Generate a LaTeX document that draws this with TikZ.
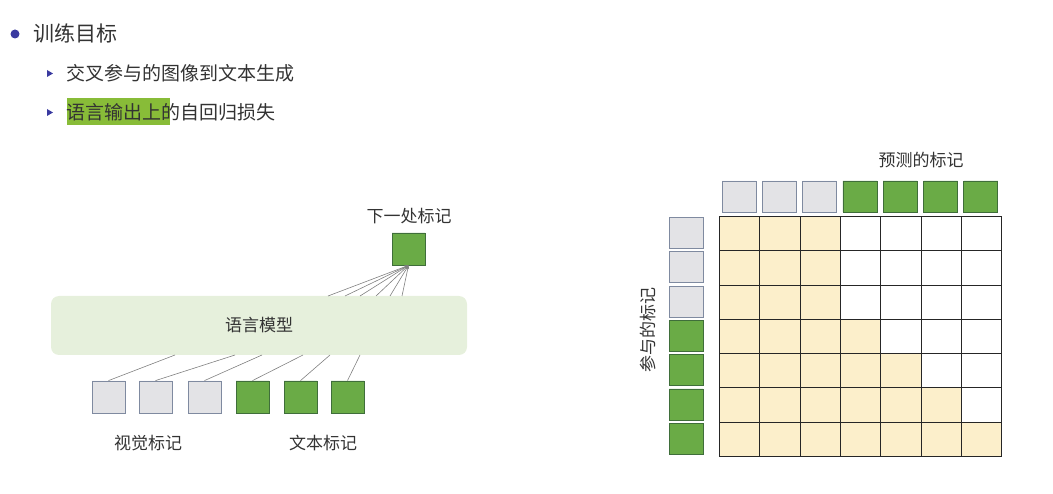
\documentclass[tikz,border=0pt]{standalone}
\usepackage{fontspec}
\setmainfont{Noto Sans CJK SC}
\usetikzlibrary{shapes.misc,arrows.meta}
\definecolor{gfill}{HTML}{E3E3E6}
\definecolor{gdraw}{HTML}{7F8AA0}
\definecolor{tfill}{HTML}{6AAB46}
\definecolor{tdraw}{HTML}{3F6E3A}
\definecolor{yel}{HTML}{FCEFCB}
\definecolor{lmfill}{HTML}{E6F0DC}
\definecolor{bul}{HTML}{3A3AA0}
\definecolor{txt}{HTML}{333333}
\tikzset{
 tok/.style={chamfered rectangle, chamfered rectangle corners={north east,north west}, chamfered rectangle xsep=4pt, chamfered rectangle ysep=4pt, minimum width=#1, inner sep=0pt, line width=0.8pt},
 vis/.style={tok=33pt, minimum height=32pt, fill=gfill, draw=gdraw},
 txk/.style={tok=33pt, minimum height=32pt, fill=tfill, draw=tdraw},
 lbl/.style={font=\fontsize{17}{20}\selectfont, text=txt},
 conn/.style={draw=gray, line width=0.6pt}
}
\begin{document}
\begin{tikzpicture}[x=1pt,y=-1pt]
\useasboundingbox (0,0) rectangle (1053,494);
% bullets
\fill[bul] (15,34) circle (4.5);
\node[anchor=west, font=\fontsize{21}{24}\selectfont, text=txt] (t0) at (30,33) {训练目标};
\fill[bul] (47,70) -- (53,73.5) -- (47,77) -- cycle;
\node[anchor=west, font=\fontsize{19}{22}\selectfont, text=txt] (t1) at (63,73) {交叉参与的图像到文本生成};
\fill[bul] (47,109) -- (53,112.5) -- (47,116) -- cycle;
\fill[tfill!80!yellow] (67,98) rectangle (170,125);
\node[anchor=west, font=\fontsize{19}{22}\selectfont, text=txt] (t2) at (63,112) {语言输出上的自回归损失};
% left diagram
\node[draw=none, fill=lmfill, rounded corners=8pt, minimum width=416pt, minimum height=59pt, inner sep=0pt] (lm) at (259,325.5) {};
\node[lbl] (lmt) at (259,325) {语言模型};
\foreach \i/\x/\s in {1/108.5/vis,2/155.5/vis,3/204.5/vis,4/252.5/txk,5/300.5/txk,6/347.5/txk}{
  \node[\s] (b\i) at (\x,397) {};
}
\foreach \i/\x in {1/175,2/235,3/262,4/303,5/330,6/360}{
  \coordinate (e\i) at (\x,355);
  \draw[conn] (b\i.north) -- (e\i);
}
\node[txk] (nx) at (408.5,249) {};
\foreach \i/\x in {1/328,2/345,3/360,4/376,5/390,6/402}{
  \coordinate (s\i) at (\x,296);
  \draw[conn,-{Stealth[length=4pt]}] (s\i) -- (nx.south);
}
\node[lbl] (nxl) at (409,216) {下一处标记};
\node[lbl] (vl) at (148,443) {视觉标记};
\node[lbl] (tl) at (323,443) {文本标记};
% right matrix
\foreach \r in {0,...,6}{
  \foreach \c in {0,...,6}{
    \pgfmathtruncatemacro{\lim}{max(2,\r)}
    \ifnum\c>\lim
      \def\cf{white}
    \else
      \def\cf{yel}
    \fi
    \node[draw=black!85, line width=0.8pt, fill=\cf, minimum width=40.3pt, minimum height=34.3pt, inner sep=0pt, anchor=north west] (m\r\c) at ({719+40.3*\c},{216+34.3*\r}) {};
  }
}
\foreach \c in {0,...,6}{
  \ifnum\c<3 \def\st{vis}\else\def\st{txk}\fi
  \node[\st, minimum width=34pt, minimum height=31pt] (p\c) at ({739+40.3*\c},196.5) {};
}
\foreach \r in {0,...,6}{
  \ifnum\r<3 \def\st{vis}\else\def\st{txk}\fi
  \node[\st, minimum width=34pt, minimum height=31pt] (q\r) at (686,{233+34.3*\r}) {};
}
\node[lbl] (pl) at (921,160) {预测的标记};
\node[lbl, rotate=90] (ql) at (648,330) {参与的标记};
\end{tikzpicture}
\end{document}
